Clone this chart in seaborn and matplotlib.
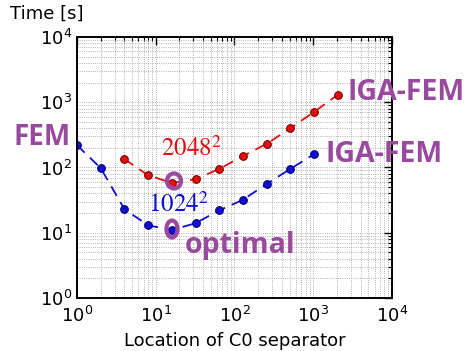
import pandas as pd
import seaborn as sns
import matplotlib.pyplot as plt
from matplotlib.patches import Ellipse

# Datos
sep_blue = [1, 2, 4, 8, 16, 32, 64, 128, 256, 512, 1024]
time_blue = [220, 98, 23, 13, 11, 14, 22, 32, 56, 95, 160]
sep_red = [4, 8, 16, 32, 64, 128, 256, 512, 1024, 2048]
time_red = [135, 76, 58, 66, 95, 150, 230, 400, 710, 1300]
series_names = ["1024^2", "2048^2"]

df = pd.concat([
    pd.DataFrame({"sep": sep_blue, "time": time_blue, "malla": series_names[0]}),
    pd.DataFrame({"sep": sep_red, "time": time_red, "malla": series_names[1]}),
])

sns.set_style("white")
plt.rcParams["font.family"] = ["DejaVu Sans"]
plt.rcParams["text.color"] = "black"
plt.rcParams["xtick.color"] = "black"
plt.rcParams["ytick.color"] = "black"
plt.rcParams["axes.labelcolor"] = "black"
plt.rcParams["mathtext.fontset"] = "stix"
purple = "#9A4A9E"

fig = plt.figure(figsize=(4.74, 3.51), dpi=100)
ax = fig.add_axes([0.1624, 0.151, 0.6646, 0.7436])

palette = {series_names[0]: "#1010d0", series_names[1]: "#e01010"}
edges = {series_names[0]: "#000080", series_names[1]: "#800000"}
for name in series_names:
    sub = df[df["malla"] == name]
    sns.lineplot(data=sub, x="sep", y="time", ax=ax, color=palette[name],
                 linestyle=(0, (6, 4)), lw=1.3, marker="o", markersize=5.5,
                 markeredgecolor=edges[name], markeredgewidth=0.8, legend=False)

ax.set_xscale("log")
ax.set_yscale("log")
ax.set_xlim(1, 1e4)
ax.set_ylim(1, 1e4)

ax.grid(which="both", ls=":", color="#999999", lw=0.6)
ax.tick_params(which="both", direction="in", top=True, right=True, labelsize=13)
ax.tick_params(which="major", length=6, width=1)
ax.tick_params(which="minor", length=3, width=0.8)
ax.tick_params(axis="x", which="major", pad=6)
for s in ax.spines.values():
    s.set_color("black")
    s.set_linewidth(1.4)

ax.set_xlabel("Location of C0 separator", fontsize=13, labelpad=4)
ax.set_ylabel("")
fig.text(0.022, 0.962, "Time [s]", fontsize=13, ha="left", va="center")

# etiquetas
fig.text(14 / 474, 1 - 138 / 351, "FEM", color=purple, fontsize=20,
         fontweight="bold", family="Open Sans", ha="left", va="center")
fig.text(348 / 474, 1 - 93 / 351, "IGA-FEM", color=purple, fontsize=20.5,
         fontweight="bold", family="Open Sans", ha="left", va="center")
fig.text(326 / 474, 1 - 154 / 351, "IGA-FEM", color=purple, fontsize=20.5,
         fontweight="bold", family="Open Sans", ha="left", va="center")
fig.text(185 / 474, 1 - 246 / 351, "optimal", color=purple, fontsize=20.5,
         fontweight="bold", family="Open Sans", ha="left", va="center")
fig.text(191 / 474, 1 - 148 / 351, r"$2048^2$", color="#e01010", fontsize=18,
         ha="center", va="center")
fig.text(178 / 474, 1 - 204 / 351, r"$1024^2$", color="#1010d0", fontsize=18,
         ha="center", va="center")

# círculos del óptimo
ax.add_patch(Ellipse(((174 - 77) / 315, (298 - 181) / 261), 14 / 315, 15 / 261,
                     transform=ax.transAxes, fill=False, ec=purple, lw=3, zorder=5))
ax.add_patch(Ellipse(((172 - 77) / 315, (298 - 229) / 261), 11 / 315, 17 / 261,
                     transform=ax.transAxes, fill=False, ec=purple, lw=3, zorder=5))

fig.savefig("out.png", dpi=100)
